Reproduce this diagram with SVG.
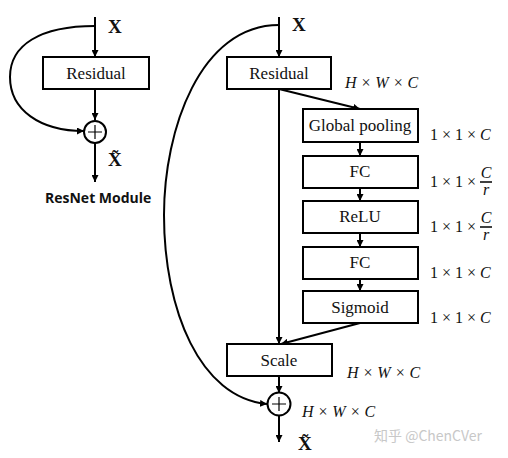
<svg xmlns="http://www.w3.org/2000/svg" width="508" height="458" viewBox="0 0 508 458">
<defs>
<marker id="ah" viewBox="0 0 10 10" refX="10" refY="5" markerWidth="7" markerHeight="7" markerUnits="userSpaceOnUse" orient="auto">
<path d="M0,0 L10,5 L0,10 z" fill="#000"/>
</marker>
</defs>
<style>
.box{fill:#fff;stroke:#000;stroke-width:2}
.lbl{font-family:'Liberation Serif','DejaVu Serif','Times New Roman',serif;font-size:17px;text-anchor:middle;fill:#111}
.x{font-family:'Liberation Serif','DejaVu Serif','Times New Roman',serif;font-size:19px;font-weight:bold;fill:#111}
.dim{font-family:'Liberation Serif','DejaVu Serif','Times New Roman',serif;font-size:16px;fill:#111}
.it{font-style:italic}
.edge{fill:none;stroke:#000;stroke-width:2}
.arr{marker-end:url(#ah)}
</style>
<rect width="508" height="458" fill="#fff"/>
<g id="connectors">
<line class="edge arr" x1="95" y1="17" x2="95" y2="57"/>
<line class="edge arr" x1="95" y1="89" x2="95" y2="120"/>
<line class="edge arr" x1="95" y1="143" x2="95" y2="182"/>
<path class="edge arr" d="M95,26 C40,26 10,45 10,77 C10,110 40,131 84,131"/>
<line class="edge arr" x1="279" y1="17" x2="279" y2="57"/>
<line class="edge arr" x1="279" y1="89" x2="279" y2="344"/>
<line class="edge arr" x1="279" y1="89" x2="360" y2="109"/>
<line class="edge arr" x1="360" y1="142" x2="360" y2="156"/>
<line class="edge arr" x1="360" y1="188" x2="360" y2="201"/>
<line class="edge arr" x1="360" y1="233" x2="360" y2="247"/>
<line class="edge arr" x1="360" y1="279" x2="360" y2="291"/>
<line class="edge arr" x1="360" y1="323" x2="281" y2="344"/>
<line class="edge arr" x1="279" y1="376" x2="279" y2="393"/>
<line class="edge arr" x1="279" y1="416" x2="279" y2="442"/>
<path class="edge arr" d="M279,25 C200,25 164,130 164,215 C164,310 200,398 267,404"/>
</g>
<g id="left-residual"><rect class="box" x="43" y="57" width="106" height="32"/><text class="lbl" x="96" y="79">Residual</text></g>
<g id="left-sum"><circle class="box" cx="95" cy="132" r="11"/><path d="M88,132 H102 M95,125 V139" stroke="#000" stroke-width="1.2"/></g>
<g id="left-labels">
<text class="x" x="108" y="33">X</text>
<text class="x" x="108" y="166">X̃</text>
<text x="45" y="203" font-family="'Open Sans','Noto Sans',sans-serif" font-weight="bold" font-size="14" fill="#111">ResNet Module</text>
</g>
<g id="right-residual"><rect class="box" x="227" y="57" width="104" height="32"/><text class="lbl" x="279" y="79">Residual</text></g>
<g id="global-pooling"><rect class="box" x="303" y="109" width="115" height="33"/><text class="lbl" x="360" y="131">Global pooling</text></g>
<g id="fc1"><rect class="box" x="303" y="156" width="115" height="32"/><text class="lbl" x="360" y="177">FC</text></g>
<g id="relu"><rect class="box" x="303" y="201" width="115" height="32"/><text class="lbl" x="360" y="222">ReLU</text></g>
<g id="fc2"><rect class="box" x="303" y="247" width="115" height="32"/><text class="lbl" x="360" y="268">FC</text></g>
<g id="sigmoid"><rect class="box" x="303" y="291" width="115" height="32"/><text class="lbl" x="360" y="313">Sigmoid</text></g>
<g id="scale"><rect class="box" x="227" y="344" width="105" height="32"/><text class="lbl" x="279" y="366">Scale</text></g>
<g id="right-sum"><circle class="box" cx="279" cy="404" r="11.5"/><path d="M272,404 H286 M279,397 V411" stroke="#000" stroke-width="1.2"/></g>
<g id="right-labels">
<text class="x" x="292" y="31">X</text>
<text class="x" x="298" y="450">X̃</text>
<text class="dim it" x="345" y="88">H × W × C</text>
<text class="dim" x="430" y="140">1 × 1 × <tspan class="it">C</tspan></text>
<text class="dim" x="430" y="187">1 × 1 ×</text>
<text class="dim it" x="486" y="178" text-anchor="middle">C</text>
<line x1="480" y1="182" x2="492" y2="182" stroke="#000" stroke-width="1.5"/>
<text class="dim it" x="486" y="195" text-anchor="middle">r</text>
<text class="dim" x="430" y="232">1 × 1 ×</text>
<text class="dim it" x="486" y="223" text-anchor="middle">C</text>
<line x1="480" y1="227" x2="492" y2="227" stroke="#000" stroke-width="1.5"/>
<text class="dim it" x="486" y="240" text-anchor="middle">r</text>
<text class="dim" x="430" y="278">1 × 1 × <tspan class="it">C</tspan></text>
<text class="dim" x="430" y="323">1 × 1 × <tspan class="it">C</tspan></text>
<text class="dim it" x="347" y="378">H × W × C</text>
<text class="dim it" x="302" y="417">H × W × C</text>
<text x="374" y="441" font-family="'Noto Sans CJK SC','Noto Sans',sans-serif" font-size="14" fill="#c8c8c8">知乎 @ChenCVer</text>
</g>
</svg>
